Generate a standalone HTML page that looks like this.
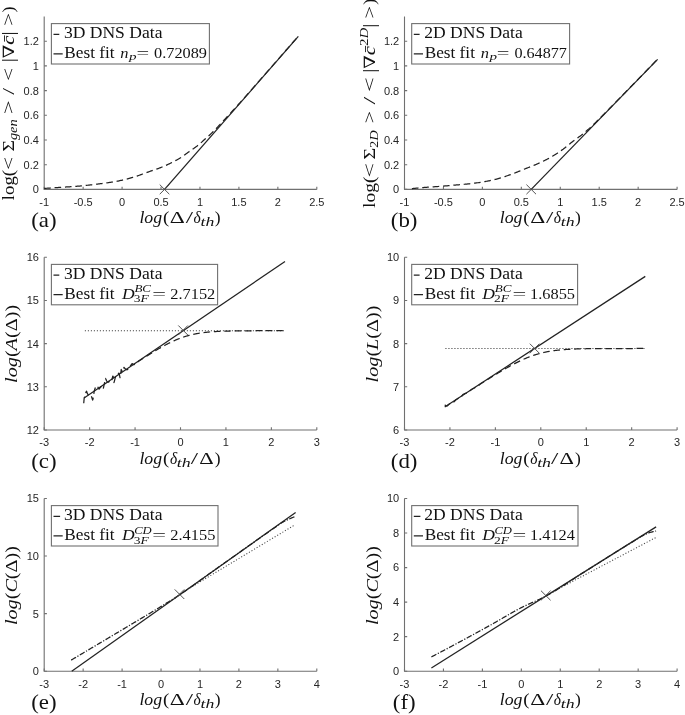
<!DOCTYPE html>
<html><head><meta charset="utf-8"><title>figure</title>
<style>html,body{margin:0;padding:0;background:#fff;width:685px;height:715px;overflow:hidden}svg{display:block}</style>
</head><body>
<svg width="685" height="715" viewBox="0 0 685 715"><g font-family='"Liberation Sans", Arial, sans-serif' font-size="11" fill="#262626"><path d="M44.20 16.50V189.40H316.80" fill="none" stroke="#707070" stroke-width="1.1"/><path d="M44.20 189.40v-2.7M83.14 189.40v-2.7M122.09 189.40v-2.7M161.03 189.40v-2.7M199.97 189.40v-2.7M238.91 189.40v-2.7M277.86 189.40v-2.7M316.80 189.40v-2.7M44.20 189.40h2.7M44.20 164.70h2.7M44.20 140.00h2.7M44.20 115.30h2.7M44.20 90.60h2.7M44.20 65.90h2.7M44.20 41.20h2.7" fill="none" stroke="#707070" stroke-width="1.1"/><text x="44.20" y="205.80" text-anchor="middle">-1</text><text x="83.14" y="205.80" text-anchor="middle">-0.5</text><text x="122.09" y="205.80" text-anchor="middle">0</text><text x="161.03" y="205.80" text-anchor="middle">0.5</text><text x="199.97" y="205.80" text-anchor="middle">1</text><text x="238.91" y="205.80" text-anchor="middle">1.5</text><text x="277.86" y="205.80" text-anchor="middle">2</text><text x="316.80" y="205.80" text-anchor="middle">2.5</text><text x="38.90" y="193.30" text-anchor="end">0</text><text x="38.90" y="168.60" text-anchor="end">0.2</text><text x="38.90" y="143.90" text-anchor="end">0.4</text><text x="38.90" y="119.20" text-anchor="end">0.6</text><text x="38.90" y="94.50" text-anchor="end">0.8</text><text x="38.90" y="69.80" text-anchor="end">1</text><text x="38.90" y="45.10" text-anchor="end">1.2</text></g>
<polyline points="44.20,188.41 45.05,188.36 45.90,188.30 46.75,188.25 47.60,188.20 48.45,188.14 49.30,188.09 50.15,188.03 51.00,187.98 51.85,187.92 52.70,187.87 53.55,187.81 54.40,187.76 55.25,187.70 56.10,187.65 56.95,187.59 57.80,187.54 58.65,187.48 59.50,187.42 60.35,187.37 61.20,187.31 62.05,187.25 62.90,187.20 63.75,187.14 64.60,187.09 65.45,187.03 66.30,186.98 67.15,186.92 68.00,186.87 68.85,186.82 69.70,186.76 70.55,186.71 71.40,186.65 72.25,186.59 73.10,186.53 73.95,186.47 74.80,186.41 75.65,186.35 76.50,186.29 77.35,186.22 78.20,186.15 79.05,186.08 79.90,186.01 80.75,185.93 81.60,185.86 82.45,185.78 83.30,185.69 84.15,185.61 85.00,185.52 85.85,185.43 86.70,185.34 87.55,185.25 88.40,185.15 89.25,185.06 90.10,184.96 90.95,184.86 91.80,184.76 92.65,184.66 93.50,184.56 94.35,184.46 95.20,184.36 96.05,184.25 96.90,184.15 97.75,184.05 98.60,183.94 99.45,183.84 100.30,183.74 101.15,183.63 102.00,183.53 102.85,183.42 103.70,183.31 104.55,183.20 105.40,183.09 106.25,182.97 107.10,182.85 107.95,182.74 108.80,182.61 109.65,182.49 110.50,182.36 111.35,182.23 112.20,182.09 113.05,181.95 113.90,181.81 114.75,181.66 115.60,181.51 116.45,181.35 117.30,181.19 118.15,181.02 119.00,180.84 119.85,180.66 120.70,180.48 121.55,180.29 122.40,180.10 123.25,179.90 124.10,179.70 124.95,179.49 125.80,179.28 126.65,179.06 127.50,178.85 128.35,178.62 129.20,178.40 130.05,178.17 130.90,177.94 131.75,177.70 132.60,177.46 133.45,177.21 134.30,176.94 135.15,176.67 136.00,176.39 136.85,176.11 137.70,175.82 138.55,175.52 139.40,175.22 140.25,174.91 141.10,174.61 141.95,174.29 142.80,173.98 143.65,173.67 144.50,173.35 145.35,173.04 146.20,172.73 147.05,172.42 147.90,172.11 148.75,171.80 149.60,171.50 150.45,171.20 151.30,170.91 152.15,170.62 153.00,170.33 153.85,170.04 154.70,169.76 155.55,169.46 156.40,169.17 157.25,168.87 158.10,168.57 158.95,168.25 159.80,167.93 160.65,167.60 161.50,167.26 162.35,166.91 163.20,166.56 164.05,166.19 164.90,165.82 165.75,165.45 166.60,165.06 167.45,164.67 168.30,164.27 169.15,163.87 170.00,163.46 170.85,163.05 171.70,162.63 172.55,162.20 173.40,161.77 174.25,161.32 175.10,160.88 175.95,160.42 176.80,159.95 177.65,159.47 178.50,158.98 179.35,158.48 180.20,157.97 181.05,157.44 181.90,156.88 182.75,156.30 183.60,155.69 184.45,155.07 185.30,154.43 186.15,153.80 186.99,153.16 187.84,152.54 188.69,151.92 189.54,151.33 190.39,150.74 191.24,150.16 192.09,149.58 192.94,149.00 193.79,148.42 194.64,147.82 195.49,147.22 196.34,146.60 197.19,145.96 198.04,145.29 198.89,144.60 199.74,143.88 200.59,143.14 201.44,142.38 202.29,141.61 203.14,140.83 203.99,140.06 204.84,139.29 205.69,138.53 206.54,137.77 207.39,137.00 208.24,136.24 209.09,135.47 209.94,134.70 210.79,133.91 211.64,133.12 212.49,132.31 213.34,131.48 214.19,130.64 215.04,129.78 215.89,128.90 216.74,128.01 217.59,127.10 218.44,126.18 219.29,125.26 220.14,124.33 220.99,123.41 221.84,122.48 222.69,121.56 223.54,120.64 224.39,119.73 225.24,118.81 226.09,117.90 226.94,116.98 227.79,116.07 228.64,115.15 229.49,114.23 230.34,113.31 231.19,112.39 232.04,111.46 232.89,110.54 233.74,109.61 234.59,108.69 235.44,107.76 236.29,106.83 237.14,105.90 237.99,104.96 238.84,104.02 239.69,103.07 240.54,102.12 241.39,101.17 242.24,100.22 243.09,99.26 243.94,98.30 244.79,97.34 245.64,96.38 246.49,95.42 247.34,94.45 248.19,93.49 249.04,92.52 249.89,91.55 250.74,90.58 251.59,89.61 252.44,88.64 253.29,87.66 254.14,86.69 254.99,85.72 255.84,84.74 256.69,83.77 257.54,82.80 258.39,81.83 259.24,80.85 260.09,79.88 260.94,78.91 261.79,77.94 262.64,76.97 263.49,76.00 264.34,75.03 265.19,74.07 266.04,73.10 266.89,72.13 267.74,71.16 268.59,70.19 269.44,69.22 270.29,68.25 271.14,67.28 271.99,66.31 272.84,65.34 273.69,64.36 274.54,63.39 275.39,62.42 276.24,61.45 277.09,60.48 277.94,59.51 278.79,58.54 279.64,57.56 280.49,56.59 281.34,55.62 282.19,54.65 283.04,53.68 283.89,52.70 284.74,51.73 285.59,50.76 286.44,49.78 287.29,48.81 288.14,47.84 288.99,46.86 289.84,45.89 290.69,44.91 291.54,43.94 292.39,42.96 293.24,41.99 294.09,41.01 294.94,40.04 295.79,39.06 296.64,38.09 297.49,37.11 298.34,36.14" fill="none" stroke="#222" stroke-width="1.25" stroke-dasharray="6.6 3.8" stroke-linejoin="round" />
<polyline points="164.53,189.40 298.34,36.45" fill="none" stroke="#222" stroke-width="1.25"  stroke-linejoin="round" />
<path d="M159.73 184.60L169.33 194.20M159.73 194.20L169.33 184.60" stroke="#4a4a4a" stroke-width="0.95" fill="none"/>
<g font-family='"Liberation Sans", Arial, sans-serif' font-size="11" fill="#262626"><path d="M404.50 16.50V189.40H677.10" fill="none" stroke="#707070" stroke-width="1.1"/><path d="M404.50 189.40v-2.7M443.44 189.40v-2.7M482.39 189.40v-2.7M521.33 189.40v-2.7M560.27 189.40v-2.7M599.21 189.40v-2.7M638.16 189.40v-2.7M677.10 189.40v-2.7M404.50 189.40h2.7M404.50 164.70h2.7M404.50 140.00h2.7M404.50 115.30h2.7M404.50 90.60h2.7M404.50 65.90h2.7M404.50 41.20h2.7" fill="none" stroke="#707070" stroke-width="1.1"/><text x="404.50" y="205.80" text-anchor="middle">-1</text><text x="443.44" y="205.80" text-anchor="middle">-0.5</text><text x="482.39" y="205.80" text-anchor="middle">0</text><text x="521.33" y="205.80" text-anchor="middle">0.5</text><text x="560.27" y="205.80" text-anchor="middle">1</text><text x="599.21" y="205.80" text-anchor="middle">1.5</text><text x="638.16" y="205.80" text-anchor="middle">2</text><text x="677.10" y="205.80" text-anchor="middle">2.5</text><text x="399.20" y="193.30" text-anchor="end">0</text><text x="399.20" y="168.60" text-anchor="end">0.2</text><text x="399.20" y="143.90" text-anchor="end">0.4</text><text x="399.20" y="119.20" text-anchor="end">0.6</text><text x="399.20" y="94.50" text-anchor="end">0.8</text><text x="399.20" y="69.80" text-anchor="end">1</text><text x="399.20" y="45.10" text-anchor="end">1.2</text></g>
<polyline points="411.90,188.66 412.72,188.57 413.54,188.48 414.36,188.39 415.19,188.30 416.01,188.21 416.83,188.13 417.65,188.04 418.47,187.96 419.30,187.88 420.12,187.81 420.94,187.73 421.76,187.66 422.58,187.59 423.40,187.53 424.23,187.46 425.05,187.40 425.87,187.34 426.69,187.28 427.51,187.23 428.34,187.17 429.16,187.11 429.98,187.06 430.80,187.00 431.62,186.95 432.45,186.90 433.27,186.84 434.09,186.79 434.91,186.73 435.73,186.67 436.55,186.62 437.38,186.56 438.20,186.50 439.02,186.43 439.84,186.37 440.66,186.31 441.49,186.24 442.31,186.18 443.13,186.11 443.95,186.04 444.77,185.98 445.59,185.91 446.42,185.84 447.24,185.77 448.06,185.70 448.88,185.63 449.70,185.56 450.53,185.49 451.35,185.42 452.17,185.35 452.99,185.28 453.81,185.20 454.63,185.13 455.46,185.06 456.28,184.98 457.10,184.91 457.92,184.84 458.74,184.76 459.57,184.69 460.39,184.62 461.21,184.54 462.03,184.47 462.85,184.40 463.67,184.32 464.50,184.25 465.32,184.17 466.14,184.09 466.96,184.01 467.78,183.93 468.61,183.85 469.43,183.76 470.25,183.67 471.07,183.58 471.89,183.49 472.72,183.40 473.54,183.30 474.36,183.20 475.18,183.09 476.00,182.98 476.82,182.87 477.65,182.75 478.47,182.64 479.29,182.51 480.11,182.39 480.93,182.26 481.76,182.12 482.58,181.99 483.40,181.85 484.22,181.70 485.04,181.56 485.86,181.41 486.69,181.25 487.51,181.09 488.33,180.93 489.15,180.77 489.97,180.60 490.80,180.43 491.62,180.25 492.44,180.07 493.26,179.88 494.08,179.68 494.90,179.48 495.73,179.27 496.55,179.05 497.37,178.82 498.19,178.59 499.01,178.36 499.84,178.11 500.66,177.87 501.48,177.62 502.30,177.36 503.12,177.10 503.94,176.84 504.77,176.57 505.59,176.30 506.41,176.03 507.23,175.75 508.05,175.47 508.88,175.20 509.70,174.92 510.52,174.63 511.34,174.34 512.16,174.04 512.99,173.73 513.81,173.41 514.63,173.08 515.45,172.75 516.27,172.42 517.09,172.08 517.92,171.74 518.74,171.40 519.56,171.06 520.38,170.72 521.20,170.38 522.03,170.05 522.85,169.72 523.67,169.39 524.49,169.07 525.31,168.74 526.13,168.42 526.96,168.10 527.78,167.78 528.60,167.46 529.42,167.14 530.24,166.82 531.07,166.49 531.89,166.17 532.71,165.83 533.53,165.50 534.35,165.16 535.17,164.81 536.00,164.45 536.82,164.09 537.64,163.73 538.46,163.37 539.28,163.00 540.11,162.63 540.93,162.25 541.75,161.87 542.57,161.48 543.39,161.09 544.21,160.69 545.04,160.29 545.86,159.88 546.68,159.46 547.50,159.03 548.32,158.60 549.15,158.15 549.97,157.70 550.79,157.23 551.61,156.76 552.43,156.28 553.26,155.78 554.08,155.28 554.90,154.77 555.72,154.25 556.54,153.72 557.36,153.18 558.19,152.64 559.01,152.08 559.83,151.52 560.65,150.95 561.47,150.38 562.30,149.80 563.12,149.21 563.94,148.59 564.76,147.96 565.58,147.31 566.40,146.64 567.23,145.97 568.05,145.29 568.87,144.61 569.69,143.93 570.51,143.25 571.34,142.58 572.16,141.93 572.98,141.29 573.80,140.66 574.62,140.05 575.44,139.45 576.27,138.85 577.09,138.26 577.91,137.68 578.73,137.09 579.55,136.49 580.38,135.89 581.20,135.29 582.02,134.66 582.84,134.03 583.66,133.37 584.49,132.69 585.31,132.00 586.13,131.29 586.95,130.56 587.77,129.83 588.59,129.09 589.42,128.34 590.24,127.59 591.06,126.82 591.88,126.04 592.70,125.26 593.53,124.47 594.35,123.68 595.17,122.88 595.99,122.08 596.81,121.27 597.63,120.45 598.46,119.64 599.28,118.82 600.10,118.00 600.92,117.18 601.74,116.35 602.57,115.53 603.39,114.70 604.21,113.87 605.03,113.05 605.85,112.22 606.67,111.38 607.50,110.55 608.32,109.72 609.14,108.88 609.96,108.05 610.78,107.21 611.61,106.38 612.43,105.54 613.25,104.70 614.07,103.86 614.89,103.02 615.71,102.18 616.54,101.35 617.36,100.51 618.18,99.67 619.00,98.83 619.82,97.99 620.65,97.15 621.47,96.31 622.29,95.47 623.11,94.63 623.93,93.79 624.76,92.95 625.58,92.11 626.40,91.27 627.22,90.43 628.04,89.58 628.86,88.74 629.69,87.90 630.51,87.06 631.33,86.22 632.15,85.38 632.97,84.53 633.80,83.69 634.62,82.85 635.44,82.00 636.26,81.16 637.08,80.31 637.90,79.47 638.73,78.63 639.55,77.78 640.37,76.94 641.19,76.09 642.01,75.24 642.84,74.40 643.66,73.55 644.48,72.70 645.30,71.86 646.12,71.01 646.94,70.16 647.77,69.31 648.59,68.46 649.41,67.62 650.23,66.77 651.05,65.92 651.88,65.07 652.70,64.22 653.52,63.37 654.34,62.51 655.16,61.66 655.98,60.81 656.81,59.96 657.63,59.11" fill="none" stroke="#222" stroke-width="1.25" stroke-dasharray="6.6 3.8" stroke-linejoin="round" />
<polyline points="531.22,189.40 657.63,59.36" fill="none" stroke="#222" stroke-width="1.25"  stroke-linejoin="round" />
<path d="M526.42 184.60L536.02 194.20M526.42 194.20L536.02 184.60" stroke="#4a4a4a" stroke-width="0.95" fill="none"/>
<g font-family='"Liberation Sans", Arial, sans-serif' font-size="11" fill="#262626"><path d="M44.20 257.30V430.00H316.80" fill="none" stroke="#707070" stroke-width="1.1"/><path d="M44.20 430.00v-2.7M89.63 430.00v-2.7M135.07 430.00v-2.7M180.50 430.00v-2.7M225.93 430.00v-2.7M271.37 430.00v-2.7M316.80 430.00v-2.7M44.20 430.00h2.7M44.20 386.82h2.7M44.20 343.65h2.7M44.20 300.48h2.7M44.20 257.30h2.7" fill="none" stroke="#707070" stroke-width="1.1"/><text x="44.20" y="446.40" text-anchor="middle">-3</text><text x="89.63" y="446.40" text-anchor="middle">-2</text><text x="135.07" y="446.40" text-anchor="middle">-1</text><text x="180.50" y="446.40" text-anchor="middle">0</text><text x="225.93" y="446.40" text-anchor="middle">1</text><text x="271.37" y="446.40" text-anchor="middle">2</text><text x="316.80" y="446.40" text-anchor="middle">3</text><text x="38.90" y="433.90" text-anchor="end">12</text><text x="38.90" y="390.72" text-anchor="end">13</text><text x="38.90" y="347.55" text-anchor="end">14</text><text x="38.90" y="304.38" text-anchor="end">15</text><text x="38.90" y="261.20" text-anchor="end">16</text></g>
<polyline points="84.86,330.70 285.00,330.70" fill="none" stroke="#444" stroke-width="1.05" stroke-dasharray="1.1 1.9" stroke-linejoin="round" />
<polyline points="83.73,403.23 84.18,397.93 84.58,397.09 84.99,395.57 85.39,394.05 85.79,392.84 86.19,391.75 86.60,391.21 87.00,392.44 87.40,393.67 87.80,394.28 88.21,394.69 88.61,395.11 89.01,395.50 89.41,395.40 89.82,395.30 90.22,395.20 90.62,395.09 91.02,395.07 91.43,396.32 91.83,397.56 92.23,398.81 92.63,400.06 93.03,398.99 93.44,396.27 93.84,393.56 94.24,391.00 94.64,389.77 95.05,388.55 95.45,387.33 95.85,386.10 96.25,385.77 96.66,385.95 97.06,386.14 97.46,386.32 97.86,387.04 98.27,387.82 98.67,388.59 99.07,389.13 99.47,388.59 99.88,388.04 100.28,387.49 100.68,386.95 101.08,386.66 101.49,387.34 101.89,388.03 102.29,388.71 102.69,389.40 103.10,389.48 103.50,387.62 103.90,385.76 104.30,383.90 104.71,382.04 105.11,380.18 105.51,378.39 105.91,379.26 106.32,380.12 106.72,380.99 107.12,381.65 107.52,381.84 107.93,382.02 108.33,382.21 108.73,382.00 109.13,381.50 109.53,381.00 109.94,380.50 110.34,380.65 110.74,380.93 111.14,381.20 111.55,381.24 111.95,379.51 112.35,377.78 112.75,376.05 113.16,376.22 113.56,379.37 113.96,382.52 114.36,381.33 114.77,379.69 115.17,378.05 115.57,376.70 115.97,376.65 116.38,376.61 116.78,376.57 117.18,376.19 117.58,375.41 117.99,374.62 118.39,373.84 118.79,373.05 119.19,373.61 119.60,375.62 120.00,377.63 120.40,376.80 120.80,373.11 121.21,369.48 121.61,370.26 122.01,371.04 122.41,371.82 122.82,371.00 123.22,369.72 123.62,368.45 124.02,367.27 124.42,367.78 124.83,368.29 125.23,368.79 125.63,369.19 126.03,369.38 126.44,369.57 126.84,369.75 127.24,369.73 127.64,369.56 128.05,369.40 128.45,369.23 128.85,369.06 129.25,368.46 129.66,367.60 130.06,366.74 130.46,365.88 130.86,365.26 131.27,364.68 131.67,364.09 132.07,363.65 132.47,363.90 132.88,364.15 133.28,364.39 133.68,364.64 134.08,364.72 134.49,364.14 134.89,363.57 135.29,363.00 135.69,362.42 136.10,361.97 136.50,361.91 136.90,361.85 137.30,361.79 137.71,361.74 138.11,361.62 138.51,361.36 138.91,361.10 139.32,360.83 139.72,360.57 140.12,360.31 140.52,360.05 140.92,359.79 141.33,359.52 141.73,359.26 142.13,359.00 142.53,358.74 142.94,358.48 143.34,358.23 143.74,357.97 144.14,357.71 144.55,357.45 144.95,357.19 145.35,356.94 145.75,356.68 146.16,356.42 146.56,356.17 146.96,355.91 147.36,355.66 147.77,355.40 148.17,355.15 148.57,354.90 148.97,354.64 149.38,354.39 149.78,354.14 150.18,353.89 150.58,353.64 150.99,353.39 151.39,353.14 151.79,352.89 152.19,352.65 152.60,352.40 153.00,352.15 153.40,351.91 153.80,351.66 154.21,351.42 154.61,351.18 155.01,350.93 155.41,350.69 155.81,350.45 156.22,350.21 156.62,349.97 157.02,349.73 157.42,349.50 157.83,349.26 158.23,349.03 158.63,348.79 159.03,348.56 159.44,348.33 159.84,348.09 160.24,347.86 160.64,347.63 161.05,347.41 161.45,347.18 161.85,346.95 162.25,346.73 162.66,346.51 163.06,346.28 163.46,346.06 163.86,345.84 164.27,345.62 164.67,345.41 165.07,345.19 165.47,344.98 165.88,344.76 166.28,344.55 166.68,344.34 167.08,344.13 167.49,343.92 167.89,343.72 168.29,343.51 168.69,343.31 169.10,343.11 169.50,342.91 169.90,342.71 170.30,342.51 170.70,342.32 171.11,342.13 171.51,341.93 171.91,341.74 172.31,341.56 172.72,341.37 173.12,341.18 173.52,341.00 173.92,340.82 174.33,340.64 174.73,340.46 175.13,340.29 175.53,340.11 175.94,339.94 176.34,339.77 176.74,339.60 177.14,339.43 177.55,339.27 177.95,339.10 178.35,338.94 178.75,338.78 179.16,338.63 179.56,338.47 179.96,338.32 180.36,338.17 180.77,338.02 181.17,337.87 181.57,337.73 181.97,337.58 182.38,337.44 182.78,337.30 183.18,337.17 183.58,337.03 183.99,336.90 184.39,336.77 184.79,336.64 185.19,336.51 185.60,336.38 186.00,336.26 186.40,336.14 186.80,336.02 187.20,335.90 187.61,335.79 188.01,335.67 188.41,335.56 188.81,335.45 189.22,335.34 189.62,335.24 190.02,335.13 190.42,335.03 190.83,334.93 191.23,334.83 191.63,334.74 192.03,334.64 192.44,334.55 192.84,334.46 193.24,334.37 193.64,334.28 194.05,334.19 194.45,334.11 194.85,334.03 195.25,333.95 195.66,333.87 196.06,333.79 196.46,333.71 196.86,333.64 197.27,333.57 197.67,333.49 198.07,333.42 198.47,333.36 198.88,333.29 199.28,333.22 199.68,333.16 200.08,333.10 200.49,333.04 200.89,332.98 201.29,332.92 201.69,332.86 202.09,332.81 202.50,332.75 202.90,332.70 203.30,332.65 203.70,332.60 204.11,332.55 204.51,332.50 204.91,332.45 205.31,332.40 205.72,332.36 206.12,332.32 206.52,332.27 206.92,332.23 207.33,332.19 207.73,332.15 208.13,332.11 208.53,332.07 208.94,332.04 209.34,332.00 209.74,331.97 210.14,331.93 210.55,331.90 210.95,331.87 211.35,331.83 211.75,331.80 212.16,331.77 212.56,331.74 212.96,331.72 213.36,331.69 213.77,331.66 214.17,331.63 214.57,331.61 214.97,331.58 215.38,331.56 215.78,331.54 216.18,331.51 216.58,331.49 216.99,331.47 217.39,331.45 217.79,331.43 218.19,331.41 218.59,331.39 219.00,331.37 219.40,331.35 219.80,331.33 220.20,331.31 220.61,331.30 221.01,331.28 221.41,331.26 221.81,331.25 222.22,331.23 222.62,331.22 223.02,331.20 223.42,331.19 223.83,331.17 224.23,331.16 224.63,331.15 225.03,331.14 225.44,331.12 225.84,331.11 226.24,331.10 226.64,331.09 227.05,331.08 227.45,331.07 227.85,331.06 228.25,331.05 228.66,331.04 229.06,331.03 229.46,331.02 229.86,331.01 230.27,331.00 230.67,330.99 231.07,330.98 231.47,330.97 231.88,330.97 232.28,330.96 232.68,330.95 233.08,330.94 233.48,330.94 233.89,330.93 234.29,330.92 234.69,330.92 235.09,330.91 235.50,330.91 235.90,330.90 236.30,330.89 236.70,330.89 237.11,330.88 237.51,330.88 237.91,330.87 238.31,330.87 238.72,330.86 239.12,330.86 239.52,330.85 239.92,330.85 240.33,330.84 240.73,330.84 241.13,330.84 241.53,330.83 241.94,330.83 242.34,330.82 242.74,330.82 243.14,330.82 243.55,330.81 243.95,330.81 244.35,330.81 244.75,330.80 245.16,330.80 245.56,330.80 245.96,330.80 246.36,330.79 246.77,330.79 247.17,330.79 247.57,330.78 247.97,330.78 248.38,330.78 248.78,330.78 249.18,330.78 249.58,330.77 249.98,330.77 250.39,330.77 250.79,330.77 251.19,330.76 251.59,330.76 252.00,330.76 252.40,330.76 252.80,330.76 253.20,330.76 253.61,330.75 254.01,330.75 254.41,330.75 254.81,330.75 255.22,330.75 255.62,330.75 256.02,330.74 256.42,330.74 256.83,330.74 257.23,330.74 257.63,330.74 258.03,330.74 258.44,330.74 258.84,330.74 259.24,330.73 259.64,330.73 260.05,330.73 260.45,330.73 260.85,330.73 261.25,330.73 261.66,330.73 262.06,330.73 262.46,330.73 262.86,330.73 263.27,330.73 263.67,330.72 264.07,330.72 264.47,330.72 264.87,330.72 265.28,330.72 265.68,330.72 266.08,330.72 266.48,330.72 266.89,330.72 267.29,330.72 267.69,330.72 268.09,330.72 268.50,330.72 268.90,330.72 269.30,330.72 269.70,330.72 270.11,330.71 270.51,330.71 270.91,330.71 271.31,330.71 271.72,330.71 272.12,330.71 272.52,330.71 272.92,330.71 273.33,330.71 273.73,330.71 274.13,330.71 274.53,330.71 274.94,330.71 275.34,330.71 275.74,330.71 276.14,330.71 276.55,330.71 276.95,330.71 277.35,330.71 277.75,330.71 278.16,330.71 278.56,330.71 278.96,330.71 279.36,330.71 279.77,330.71 280.17,330.71 280.57,330.71 280.97,330.71 281.37,330.71 281.78,330.70 282.18,330.70 282.58,330.70 282.98,330.70 283.39,330.70 283.79,330.70 284.19,330.70 284.59,330.70 285.00,330.70" fill="none" stroke="#222" stroke-width="1.25" stroke-dasharray="6.6 3.8" stroke-linejoin="round" />
<polyline points="84.09,397.98 285.00,261.44" fill="none" stroke="#222" stroke-width="1.25"  stroke-linejoin="round" />
<path d="M178.29 325.47L187.89 335.07M178.29 335.07L187.89 325.47" stroke="#4a4a4a" stroke-width="0.95" fill="none"/>
<g font-family='"Liberation Sans", Arial, sans-serif' font-size="11" fill="#262626"><path d="M404.50 257.30V430.00H677.10" fill="none" stroke="#707070" stroke-width="1.1"/><path d="M404.50 430.00v-2.7M449.93 430.00v-2.7M495.37 430.00v-2.7M540.80 430.00v-2.7M586.23 430.00v-2.7M631.67 430.00v-2.7M677.10 430.00v-2.7M404.50 430.00h2.7M404.50 386.82h2.7M404.50 343.65h2.7M404.50 300.48h2.7M404.50 257.30h2.7" fill="none" stroke="#707070" stroke-width="1.1"/><text x="404.50" y="446.40" text-anchor="middle">-3</text><text x="449.93" y="446.40" text-anchor="middle">-2</text><text x="495.37" y="446.40" text-anchor="middle">-1</text><text x="540.80" y="446.40" text-anchor="middle">0</text><text x="586.23" y="446.40" text-anchor="middle">1</text><text x="631.67" y="446.40" text-anchor="middle">2</text><text x="677.10" y="446.40" text-anchor="middle">3</text><text x="399.20" y="433.90" text-anchor="end">6</text><text x="399.20" y="390.72" text-anchor="end">7</text><text x="399.20" y="347.55" text-anchor="end">8</text><text x="399.20" y="304.38" text-anchor="end">9</text><text x="399.20" y="261.20" text-anchor="end">10</text></g>
<polyline points="445.39,348.49 645.30,348.49" fill="none" stroke="#444" stroke-width="1.05" stroke-dasharray="1.1 1.9" stroke-linejoin="round" />
<polyline points="444.71,404.89 445.21,405.18 445.71,405.49 446.22,405.78 446.72,406.06 447.22,405.95 447.72,405.48 448.23,405.01 448.73,404.55 449.23,404.09 449.74,403.67 450.24,403.25 450.74,402.83 451.24,402.42 451.75,402.22 452.25,402.18 452.75,402.14 453.25,402.09 453.76,402.00 454.26,401.48 454.76,400.97 455.27,400.46 455.77,399.96 456.27,399.56 456.77,399.24 457.28,398.91 457.78,398.59 458.28,398.30 458.78,398.31 459.29,398.31 459.79,398.30 460.29,398.28 460.80,397.74 461.30,396.90 461.80,396.09 462.30,395.29 462.81,394.58 463.31,394.34 463.81,394.10 464.31,393.85 464.82,393.60 465.32,393.43 465.82,393.28 466.33,393.13 466.83,392.98 467.33,392.77 467.83,392.38 468.34,391.99 468.84,391.60 469.34,391.22 469.84,390.82 470.35,390.42 470.85,390.02 471.35,389.63 471.86,389.28 472.36,389.04 472.86,388.79 473.36,388.54 473.87,388.28 474.37,387.97 474.87,387.65 475.37,387.32 475.88,386.99 476.38,386.68 476.88,386.44 477.39,386.18 477.89,385.92 478.39,385.65 478.89,385.24 479.40,384.81 479.90,384.38 480.40,383.98 480.90,383.61 481.41,383.31 481.91,383.01 482.41,382.71 482.92,382.41 483.42,382.09 483.92,381.77 484.42,381.45 484.93,381.14 485.43,380.83 485.93,380.52 486.43,380.20 486.94,379.88 487.44,379.57 487.94,379.25 488.45,378.94 488.95,378.62 489.45,378.31 489.95,377.99 490.46,377.68 490.96,377.37 491.46,377.06 491.96,376.74 492.47,376.43 492.97,376.12 493.47,375.81 493.98,375.50 494.48,375.19 494.98,374.89 495.48,374.58 495.99,374.27 496.49,373.97 496.99,373.66 497.49,373.36 498.00,373.05 498.50,372.75 499.00,372.45 499.51,372.14 500.01,371.84 500.51,371.54 501.01,371.24 501.52,370.95 502.02,370.65 502.52,370.35 503.02,370.06 503.53,369.76 504.03,369.47 504.53,369.18 505.04,368.89 505.54,368.60 506.04,368.31 506.54,368.02 507.05,367.74 507.55,367.45 508.05,367.17 508.55,366.89 509.06,366.60 509.56,366.33 510.06,366.05 510.57,365.77 511.07,365.50 511.57,365.22 512.07,364.95 512.58,364.68 513.08,364.41 513.58,364.15 514.08,363.88 514.59,363.62 515.09,363.36 515.59,363.10 516.10,362.84 516.60,362.58 517.10,362.33 517.60,362.08 518.11,361.83 518.61,361.58 519.11,361.34 519.61,361.09 520.12,360.85 520.62,360.61 521.12,360.38 521.63,360.14 522.13,359.91 522.63,359.68 523.13,359.45 523.64,359.23 524.14,359.01 524.64,358.79 525.14,358.57 525.65,358.36 526.15,358.14 526.65,357.93 527.16,357.73 527.66,357.52 528.16,357.32 528.66,357.12 529.17,356.93 529.67,356.73 530.17,356.54 530.67,356.36 531.18,356.17 531.68,355.99 532.18,355.81 532.69,355.64 533.19,355.46 533.69,355.29 534.19,355.12 534.70,354.96 535.20,354.80 535.70,354.64 536.20,354.48 536.71,354.33 537.21,354.18 537.71,354.03 538.22,353.89 538.72,353.74 539.22,353.60 539.72,353.47 540.23,353.33 540.73,353.20 541.23,353.08 541.73,352.95 542.24,352.83 542.74,352.71 543.24,352.59 543.75,352.48 544.25,352.36 544.75,352.25 545.25,352.15 545.76,352.04 546.26,351.94 546.76,351.84 547.26,351.74 547.77,351.65 548.27,351.56 548.77,351.46 549.28,351.38 549.78,351.29 550.28,351.21 550.78,351.13 551.29,351.05 551.79,350.97 552.29,350.89 552.79,350.82 553.30,350.75 553.80,350.68 554.30,350.61 554.81,350.55 555.31,350.48 555.81,350.42 556.31,350.36 556.82,350.30 557.32,350.25 557.82,350.19 558.32,350.14 558.83,350.09 559.33,350.03 559.83,349.99 560.34,349.94 560.84,349.89 561.34,349.85 561.84,349.80 562.35,349.76 562.85,349.72 563.35,349.68 563.85,349.64 564.36,349.60 564.86,349.57 565.36,349.53 565.87,349.50 566.37,349.47 566.87,349.43 567.37,349.40 567.88,349.37 568.38,349.34 568.88,349.32 569.38,349.29 569.89,349.26 570.39,349.24 570.89,349.21 571.40,349.19 571.90,349.16 572.40,349.14 572.90,349.12 573.41,349.10 573.91,349.08 574.41,349.06 574.91,349.04 575.42,349.02 575.92,349.00 576.42,348.99 576.93,348.97 577.43,348.95 577.93,348.94 578.43,348.92 578.94,348.91 579.44,348.89 579.94,348.88 580.44,348.87 580.95,348.85 581.45,348.84 581.95,348.83 582.46,348.82 582.96,348.81 583.46,348.80 583.96,348.78 584.47,348.77 584.97,348.76 585.47,348.76 585.97,348.75 586.48,348.74 586.98,348.73 587.48,348.72 587.99,348.71 588.49,348.71 588.99,348.70 589.49,348.69 590.00,348.68 590.50,348.68 591.00,348.67 591.50,348.66 592.01,348.66 592.51,348.65 593.01,348.65 593.52,348.64 594.02,348.64 594.52,348.63 595.02,348.63 595.53,348.62 596.03,348.62 596.53,348.61 597.03,348.61 597.54,348.60 598.04,348.60 598.54,348.60 599.05,348.59 599.55,348.59 600.05,348.58 600.55,348.58 601.06,348.58 601.56,348.57 602.06,348.57 602.56,348.57 603.07,348.57 603.57,348.56 604.07,348.56 604.58,348.56 605.08,348.56 605.58,348.55 606.08,348.55 606.59,348.55 607.09,348.55 607.59,348.54 608.09,348.54 608.60,348.54 609.10,348.54 609.60,348.54 610.11,348.53 610.61,348.53 611.11,348.53 611.61,348.53 612.12,348.53 612.62,348.53 613.12,348.53 613.62,348.52 614.13,348.52 614.63,348.52 615.13,348.52 615.64,348.52 616.14,348.52 616.64,348.52 617.14,348.52 617.65,348.51 618.15,348.51 618.65,348.51 619.15,348.51 619.66,348.51 620.16,348.51 620.66,348.51 621.17,348.51 621.67,348.51 622.17,348.51 622.67,348.51 623.18,348.51 623.68,348.50 624.18,348.50 624.68,348.50 625.19,348.50 625.69,348.50 626.19,348.50 626.70,348.50 627.20,348.50 627.70,348.50 628.20,348.50 628.71,348.50 629.21,348.50 629.71,348.50 630.21,348.50 630.72,348.50 631.22,348.50 631.72,348.50 632.23,348.50 632.73,348.50 633.23,348.50 633.73,348.50 634.24,348.49 634.74,348.49 635.24,348.49 635.74,348.49 636.25,348.49 636.75,348.49 637.25,348.49 637.76,348.49 638.26,348.49 638.76,348.49 639.26,348.49 639.77,348.49 640.27,348.49 640.77,348.49 641.27,348.49 641.78,348.49 642.28,348.49 642.78,348.49 643.29,348.49 643.79,348.49 644.29,348.49 644.79,348.49 645.30,348.49" fill="none" stroke="#222" stroke-width="1.25" stroke-dasharray="6.6 3.8" stroke-linejoin="round" />
<polyline points="444.71,407.06 645.30,276.39" fill="none" stroke="#222" stroke-width="1.25"  stroke-linejoin="round" />
<path d="M529.82 343.69L539.42 353.29M529.82 353.29L539.42 343.69" stroke="#4a4a4a" stroke-width="0.95" fill="none"/>
<g font-family='"Liberation Sans", Arial, sans-serif' font-size="11" fill="#262626"><path d="M44.20 498.50V671.20H316.80" fill="none" stroke="#707070" stroke-width="1.1"/><path d="M44.20 671.20v-2.7M83.14 671.20v-2.7M122.09 671.20v-2.7M161.03 671.20v-2.7M199.97 671.20v-2.7M238.91 671.20v-2.7M277.86 671.20v-2.7M316.80 671.20v-2.7M44.20 671.20h2.7M44.20 613.63h2.7M44.20 556.07h2.7M44.20 498.50h2.7" fill="none" stroke="#707070" stroke-width="1.1"/><text x="44.20" y="687.60" text-anchor="middle">-3</text><text x="83.14" y="687.60" text-anchor="middle">-2</text><text x="122.09" y="687.60" text-anchor="middle">-1</text><text x="161.03" y="687.60" text-anchor="middle">0</text><text x="199.97" y="687.60" text-anchor="middle">1</text><text x="238.91" y="687.60" text-anchor="middle">2</text><text x="277.86" y="687.60" text-anchor="middle">3</text><text x="316.80" y="687.60" text-anchor="middle">4</text><text x="38.90" y="675.10" text-anchor="end">0</text><text x="38.90" y="617.53" text-anchor="end">5</text><text x="38.90" y="559.97" text-anchor="end">10</text><text x="38.90" y="502.40" text-anchor="end">15</text></g>
<polyline points="179.49,594.20 293.82,525.50" fill="none" stroke="#444" stroke-width="1.05" stroke-dasharray="1.1 1.9" stroke-linejoin="round" />
<polyline points="71.19,660.10 71.94,659.66 72.69,659.21 73.44,658.77 74.19,658.32 74.94,657.88 75.69,657.43 76.44,656.99 77.19,656.54 77.94,656.10 78.69,655.65 79.44,655.21 80.19,654.76 80.95,654.32 81.70,653.87 82.45,653.42 83.20,652.98 83.95,652.53 84.70,652.09 85.45,651.64 86.20,651.20 86.95,650.75 87.70,650.30 88.45,649.86 89.20,649.41 89.95,648.97 90.70,648.52 91.45,648.07 92.20,647.63 92.95,647.18 93.71,646.73 94.46,646.29 95.21,645.84 95.96,645.40 96.71,644.95 97.46,644.50 98.21,644.06 98.96,643.61 99.71,643.16 100.46,642.72 101.21,642.27 101.96,641.82 102.71,641.37 103.46,640.93 104.21,640.48 104.96,640.03 105.71,639.59 106.47,639.14 107.22,638.69 107.97,638.24 108.72,637.80 109.47,637.35 110.22,636.90 110.97,636.45 111.72,636.01 112.47,635.56 113.22,635.11 113.97,634.66 114.72,634.22 115.47,633.77 116.22,633.32 116.97,632.87 117.72,632.43 118.47,631.98 119.23,631.53 119.98,631.08 120.73,630.63 121.48,630.19 122.23,629.74 122.98,629.29 123.73,628.84 124.48,628.39 125.23,627.94 125.98,627.50 126.73,627.05 127.48,626.60 128.23,626.15 128.98,625.70 129.73,625.25 130.48,624.81 131.23,624.36 131.99,623.91 132.74,623.46 133.49,623.02 134.24,622.57 134.99,622.12 135.74,621.68 136.49,621.23 137.24,620.78 137.99,620.34 138.74,619.89 139.49,619.45 140.24,619.00 140.99,618.56 141.74,618.11 142.49,617.66 143.24,617.22 144.00,616.77 144.75,616.32 145.50,615.88 146.25,615.43 147.00,614.98 147.75,614.53 148.50,614.08 149.25,613.64 150.00,613.19 150.75,612.74 151.50,612.28 152.25,611.83 153.00,611.38 153.75,610.93 154.50,610.48 155.25,610.02 156.00,609.57 156.76,609.11 157.51,608.65 158.26,608.19 159.01,607.74 159.76,607.28 160.51,606.82 161.26,606.35 162.01,605.89 162.76,605.43 163.51,604.97 164.26,604.50 165.01,604.04 165.76,603.58 166.51,603.11 167.26,602.65 168.01,602.18 168.76,601.72 169.52,601.25 170.27,600.78 171.02,600.31 171.77,599.84 172.52,599.36 173.27,598.89 174.02,598.41 174.77,597.93 175.52,597.45 176.27,596.97 177.02,596.48 177.77,595.99 178.52,595.50 179.27,595.00 180.02,594.51 180.77,594.01 181.52,593.50 182.28,593.00 183.03,592.49 183.78,591.98 184.53,591.47 185.28,590.95 186.03,590.44 186.78,589.92 187.53,589.40 188.28,588.88 189.03,588.35 189.78,587.83 190.53,587.30 191.28,586.77 192.03,586.24 192.78,585.71 193.53,585.18 194.28,584.64 195.04,584.11 195.79,583.57 196.54,583.03 197.29,582.50 198.04,581.96 198.79,581.42 199.54,580.88 200.29,580.34 201.04,579.79 201.79,579.25 202.54,578.71 203.29,578.17 204.04,577.62 204.79,577.08 205.54,576.54 206.29,575.99 207.04,575.45 207.80,574.91 208.55,574.36 209.30,573.82 210.05,573.28 210.80,572.74 211.55,572.20 212.30,571.66 213.05,571.12 213.80,570.58 214.55,570.04 215.30,569.50 216.05,568.96 216.80,568.43 217.55,567.90 218.30,567.36 219.05,566.83 219.81,566.30 220.56,565.77 221.31,565.24 222.06,564.71 222.81,564.18 223.56,563.65 224.31,563.12 225.06,562.58 225.81,562.05 226.56,561.52 227.31,560.99 228.06,560.46 228.81,559.93 229.56,559.39 230.31,558.86 231.06,558.33 231.81,557.80 232.57,557.27 233.32,556.73 234.07,556.20 234.82,555.67 235.57,555.14 236.32,554.61 237.07,554.07 237.82,553.54 238.57,553.01 239.32,552.48 240.07,551.95 240.82,551.41 241.57,550.88 242.32,550.35 243.07,549.82 243.82,549.29 244.57,548.76 245.33,548.23 246.08,547.70 246.83,547.16 247.58,546.63 248.33,546.10 249.08,545.57 249.83,545.04 250.58,544.51 251.33,543.98 252.08,543.45 252.83,542.93 253.58,542.40 254.33,541.87 255.08,541.34 255.83,540.81 256.58,540.28 257.33,539.76 258.09,539.23 258.84,538.70 259.59,538.17 260.34,537.65 261.09,537.12 261.84,536.60 262.59,536.07 263.34,535.55 264.09,535.02 264.84,534.50 265.59,533.97 266.34,533.45 267.09,532.93 267.84,532.41 268.59,531.88 269.34,531.36 270.09,530.84 270.85,530.32 271.60,529.80 272.35,529.28 273.10,528.76 273.85,528.24 274.60,527.72 275.35,527.19 276.10,526.65 276.85,526.10 277.60,525.56 278.35,525.02 279.10,524.49 279.85,523.97 280.60,523.47 281.35,522.98 282.10,522.52 282.85,522.08 283.61,521.67 284.36,521.28 285.11,520.90 285.86,520.53 286.61,520.18 287.36,519.83 288.11,519.49 288.86,519.16 289.61,518.82 290.36,518.49 291.11,518.17 291.86,517.85 292.61,517.54 293.36,517.23 294.11,516.93 294.86,516.63 295.62,516.35" fill="none" stroke="#222" stroke-width="1.25" stroke-dasharray="5.6 1.6 1.2 1.6" stroke-linejoin="round" />
<polyline points="71.73,671.20 295.62,512.59" fill="none" stroke="#222" stroke-width="1.25"  stroke-linejoin="round" />
<path d="M174.69 589.40L184.29 599.00M174.69 599.00L184.29 589.40" stroke="#4a4a4a" stroke-width="0.95" fill="none"/>
<g font-family='"Liberation Sans", Arial, sans-serif' font-size="11" fill="#262626"><path d="M404.50 498.50V671.20H677.10" fill="none" stroke="#707070" stroke-width="1.1"/><path d="M404.50 671.20v-2.7M443.44 671.20v-2.7M482.39 671.20v-2.7M521.33 671.20v-2.7M560.27 671.20v-2.7M599.21 671.20v-2.7M638.16 671.20v-2.7M677.10 671.20v-2.7M404.50 671.20h2.7M404.50 636.66h2.7M404.50 602.12h2.7M404.50 567.58h2.7M404.50 533.04h2.7M404.50 498.50h2.7" fill="none" stroke="#707070" stroke-width="1.1"/><text x="404.50" y="687.60" text-anchor="middle">-3</text><text x="443.44" y="687.60" text-anchor="middle">-2</text><text x="482.39" y="687.60" text-anchor="middle">-1</text><text x="521.33" y="687.60" text-anchor="middle">0</text><text x="560.27" y="687.60" text-anchor="middle">1</text><text x="599.21" y="687.60" text-anchor="middle">2</text><text x="638.16" y="687.60" text-anchor="middle">3</text><text x="677.10" y="687.60" text-anchor="middle">4</text><text x="399.20" y="675.10" text-anchor="end">0</text><text x="399.20" y="640.56" text-anchor="end">2</text><text x="399.20" y="606.02" text-anchor="end">4</text><text x="399.20" y="571.48" text-anchor="end">6</text><text x="399.20" y="536.94" text-anchor="end">8</text><text x="399.20" y="502.40" text-anchor="end">10</text></g>
<polyline points="545.78,595.51 656.11,537.39" fill="none" stroke="#444" stroke-width="1.05" stroke-dasharray="1.1 1.9" stroke-linejoin="round" />
<polyline points="431.41,656.90 432.16,656.51 432.91,656.12 433.66,655.72 434.42,655.33 435.17,654.94 435.92,654.55 436.67,654.15 437.42,653.76 438.17,653.36 438.92,652.97 439.68,652.57 440.43,652.18 441.18,651.78 441.93,651.38 442.68,650.99 443.43,650.59 444.19,650.19 444.94,649.79 445.69,649.40 446.44,649.00 447.19,648.60 447.94,648.20 448.69,647.80 449.45,647.40 450.20,647.00 450.95,646.60 451.70,646.20 452.45,645.80 453.20,645.39 453.95,644.99 454.71,644.59 455.46,644.19 456.21,643.78 456.96,643.38 457.71,642.98 458.46,642.57 459.22,642.17 459.97,641.76 460.72,641.36 461.47,640.95 462.22,640.55 462.97,640.14 463.72,639.73 464.48,639.33 465.23,638.92 465.98,638.51 466.73,638.11 467.48,637.70 468.23,637.29 468.98,636.88 469.74,636.47 470.49,636.07 471.24,635.66 471.99,635.25 472.74,634.84 473.49,634.43 474.25,634.02 475.00,633.61 475.75,633.20 476.50,632.78 477.25,632.37 478.00,631.96 478.75,631.55 479.51,631.14 480.26,630.73 481.01,630.31 481.76,629.90 482.51,629.49 483.26,629.07 484.01,628.66 484.77,628.25 485.52,627.83 486.27,627.42 487.02,627.00 487.77,626.59 488.52,626.17 489.28,625.76 490.03,625.34 490.78,624.93 491.53,624.51 492.28,624.09 493.03,623.66 493.78,623.24 494.54,622.81 495.29,622.38 496.04,621.95 496.79,621.51 497.54,621.08 498.29,620.64 499.05,620.21 499.80,619.77 500.55,619.33 501.30,618.89 502.05,618.45 502.80,618.01 503.55,617.58 504.31,617.14 505.06,616.70 505.81,616.26 506.56,615.82 507.31,615.39 508.06,614.95 508.81,614.52 509.57,614.09 510.32,613.66 511.07,613.23 511.82,612.80 512.57,612.38 513.32,611.95 514.08,611.54 514.83,611.12 515.58,610.70 516.33,610.29 517.08,609.88 517.83,609.48 518.58,609.08 519.34,608.68 520.09,608.29 520.84,607.90 521.59,607.51 522.34,607.13 523.09,606.76 523.84,606.39 524.60,606.03 525.35,605.67 526.10,605.32 526.85,604.97 527.60,604.62 528.35,604.28 529.11,603.94 529.86,603.60 530.61,603.27 531.36,602.93 532.11,602.60 532.86,602.26 533.61,601.93 534.37,601.59 535.12,601.26 535.87,600.92 536.62,600.58 537.37,600.24 538.12,599.90 538.87,599.55 539.63,599.20 540.38,598.84 541.13,598.48 541.88,598.12 542.63,597.75 543.38,597.38 544.14,597.00 544.89,596.61 545.64,596.21 546.39,595.81 547.14,595.40 547.89,594.99 548.64,594.57 549.40,594.15 550.15,593.72 550.90,593.29 551.65,592.85 552.40,592.41 553.15,591.96 553.90,591.51 554.66,591.06 555.41,590.60 556.16,590.14 556.91,589.67 557.66,589.21 558.41,588.74 559.17,588.26 559.92,587.79 560.67,587.31 561.42,586.83 562.17,586.34 562.92,585.86 563.67,585.37 564.43,584.88 565.18,584.39 565.93,583.90 566.68,583.41 567.43,582.92 568.18,582.42 568.94,581.93 569.69,581.43 570.44,580.94 571.19,580.44 571.94,579.95 572.69,579.45 573.44,578.96 574.20,578.46 574.95,577.97 575.70,577.48 576.45,576.99 577.20,576.50 577.95,576.01 578.70,575.52 579.46,575.04 580.21,574.55 580.96,574.07 581.71,573.59 582.46,573.12 583.21,572.64 583.97,572.17 584.72,571.70 585.47,571.23 586.22,570.76 586.97,570.29 587.72,569.81 588.47,569.34 589.23,568.87 589.98,568.40 590.73,567.92 591.48,567.45 592.23,566.98 592.98,566.50 593.73,566.03 594.49,565.56 595.24,565.08 595.99,564.61 596.74,564.13 597.49,563.66 598.24,563.19 599.00,562.71 599.75,562.24 600.50,561.76 601.25,561.29 602.00,560.82 602.75,560.34 603.50,559.87 604.26,559.39 605.01,558.92 605.76,558.45 606.51,557.97 607.26,557.50 608.01,557.03 608.76,556.55 609.52,556.08 610.27,555.61 611.02,555.14 611.77,554.67 612.52,554.20 613.27,553.72 614.03,553.25 614.78,552.78 615.53,552.31 616.28,551.84 617.03,551.37 617.78,550.91 618.53,550.44 619.29,549.97 620.04,549.50 620.79,549.04 621.54,548.57 622.29,548.10 623.04,547.64 623.80,547.18 624.55,546.71 625.30,546.25 626.05,545.79 626.80,545.32 627.55,544.86 628.30,544.40 629.06,543.94 629.81,543.48 630.56,543.02 631.31,542.57 632.06,542.11 632.81,541.65 633.56,541.20 634.32,540.74 635.07,540.28 635.82,539.82 636.57,539.35 637.32,538.88 638.07,538.41 638.83,537.94 639.58,537.48 640.33,537.02 641.08,536.58 641.83,536.15 642.58,535.74 643.33,535.34 644.09,534.97 644.84,534.61 645.59,534.25 646.34,533.91 647.09,533.58 647.84,533.27 648.59,532.98 649.35,532.71 650.10,532.47 650.85,532.25 651.60,532.03 652.35,531.82 653.10,531.62 653.86,531.44 654.61,531.28 655.36,531.13 656.11,531.00" fill="none" stroke="#222" stroke-width="1.25" stroke-dasharray="5.6 1.6 1.2 1.6" stroke-linejoin="round" />
<polyline points="431.41,667.92 656.11,526.89" fill="none" stroke="#222" stroke-width="1.25"  stroke-linejoin="round" />
<path d="M540.98 590.71L550.58 600.31M540.98 600.31L550.58 590.71" stroke="#4a4a4a" stroke-width="0.95" fill="none"/>
<rect x="51.40" y="23.60" width="158.00" height="40.4" fill="#fff" stroke="#707070" stroke-width="1.1"/>
<path d="M53.50 34.40h5.8M53.50 53.80h9.2" stroke="#222" stroke-width="1.25"/>
<text transform="translate(63.88 38.10) scale(1.0986 1)" font-family='"Liberation Serif", "Times New Roman", serif' font-size="16" fill="#111">3D DNS Data</text>
<text transform="translate(64.36 57.75) scale(1.0783 1)" font-family='"Liberation Serif", "Times New Roman", serif' font-size="16" fill="#111">Best fit</text>
<text transform="translate(120.37 57.75) scale(1.0615 1)" font-family='"Liberation Serif", "Times New Roman", serif' font-size="15.5" fill="#111"><tspan font-style="italic">n</tspan></text>
<text transform="translate(129.09 59.65) scale(1.3739 1)" font-family='"Liberation Serif", "Times New Roman", serif' font-size="11" fill="#111"><tspan font-style="italic">p</tspan></text>
<text transform="translate(136.41 57.75) scale(1.4483 1)" font-family='"Liberation Serif", "Times New Roman", serif' font-size="15.5" fill="#111">=</text>
<text transform="translate(154.07 57.75) scale(1.0518 1)" font-family='"Liberation Serif", "Times New Roman", serif' font-size="15.5" fill="#111">0.72089</text>
<rect x="411.70" y="23.60" width="157.90" height="40.4" fill="#fff" stroke="#707070" stroke-width="1.1"/>
<path d="M413.80 34.40h5.8M413.80 53.80h9.2" stroke="#222" stroke-width="1.25"/>
<text transform="translate(424.18 38.10) scale(1.0986 1)" font-family='"Liberation Serif", "Times New Roman", serif' font-size="16" fill="#111">2D DNS Data</text>
<text transform="translate(424.66 57.75) scale(1.0783 1)" font-family='"Liberation Serif", "Times New Roman", serif' font-size="16" fill="#111">Best fit</text>
<text transform="translate(480.67 57.75) scale(1.0615 1)" font-family='"Liberation Serif", "Times New Roman", serif' font-size="15.5" fill="#111"><tspan font-style="italic">n</tspan></text>
<text transform="translate(489.39 59.65) scale(1.3739 1)" font-family='"Liberation Serif", "Times New Roman", serif' font-size="11" fill="#111"><tspan font-style="italic">p</tspan></text>
<text transform="translate(496.71 57.75) scale(1.4483 1)" font-family='"Liberation Serif", "Times New Roman", serif' font-size="15.5" fill="#111">=</text>
<text transform="translate(514.38 57.75) scale(1.0444 1)" font-family='"Liberation Serif", "Times New Roman", serif' font-size="15.5" fill="#111">0.64877</text>
<rect x="51.40" y="264.40" width="166.20" height="40.4" fill="#fff" stroke="#707070" stroke-width="1.1"/>
<path d="M53.50 275.20h5.8M53.50 294.60h9.2" stroke="#222" stroke-width="1.25"/>
<text transform="translate(63.88 278.90) scale(1.0986 1)" font-family='"Liberation Serif", "Times New Roman", serif' font-size="16" fill="#111">3D DNS Data</text>
<text transform="translate(64.36 298.55) scale(1.0783 1)" font-family='"Liberation Serif", "Times New Roman", serif' font-size="16" fill="#111">Best fit</text>
<text transform="translate(121.88 298.55) scale(1.1289 1)" font-family='"Liberation Serif", "Times New Roman", serif' font-size="15.5" fill="#111"><tspan font-style="italic">D</tspan></text>
<text transform="translate(134.40 292.35) scale(1.1857 1)" font-family='"Liberation Serif", "Times New Roman", serif' font-size="11" fill="#111"><tspan font-style="italic">BC</tspan></text>
<text transform="translate(133.69 302.45) scale(1.2255 1)" font-family='"Liberation Serif", "Times New Roman", serif' font-size="11" fill="#111">3<tspan font-style="italic">F</tspan></text>
<text transform="translate(152.32 298.55) scale(1.5724 1)" font-family='"Liberation Serif", "Times New Roman", serif' font-size="15.5" fill="#111">=</text>
<text transform="translate(170.21 298.55) scale(1.0585 1)" font-family='"Liberation Serif", "Times New Roman", serif' font-size="15.5" fill="#111">2.7152</text>
<rect x="411.70" y="264.40" width="165.90" height="40.4" fill="#fff" stroke="#707070" stroke-width="1.1"/>
<path d="M413.80 275.20h5.8M413.80 294.60h9.2" stroke="#222" stroke-width="1.25"/>
<text transform="translate(424.18 278.90) scale(1.0986 1)" font-family='"Liberation Serif", "Times New Roman", serif' font-size="16" fill="#111">2D DNS Data</text>
<text transform="translate(424.66 298.55) scale(1.0783 1)" font-family='"Liberation Serif", "Times New Roman", serif' font-size="16" fill="#111">Best fit</text>
<text transform="translate(482.18 298.55) scale(1.1289 1)" font-family='"Liberation Serif", "Times New Roman", serif' font-size="15.5" fill="#111"><tspan font-style="italic">D</tspan></text>
<text transform="translate(494.70 292.35) scale(1.1857 1)" font-family='"Liberation Serif", "Times New Roman", serif' font-size="11" fill="#111"><tspan font-style="italic">BC</tspan></text>
<text transform="translate(493.99 302.45) scale(1.2255 1)" font-family='"Liberation Serif", "Times New Roman", serif' font-size="11" fill="#111">2<tspan font-style="italic">F</tspan></text>
<text transform="translate(512.62 298.55) scale(1.5724 1)" font-family='"Liberation Serif", "Times New Roman", serif' font-size="15.5" fill="#111">=</text>
<text transform="translate(529.98 298.55) scale(1.0577 1)" font-family='"Liberation Serif", "Times New Roman", serif' font-size="15.5" fill="#111">1.6855</text>
<rect x="51.40" y="505.60" width="166.60" height="40.4" fill="#fff" stroke="#707070" stroke-width="1.1"/>
<path d="M53.50 516.40h6.6M53.50 535.80h9.2" stroke="#222" stroke-width="1.25"/>
<text transform="translate(63.88 520.10) scale(1.0986 1)" font-family='"Liberation Serif", "Times New Roman", serif' font-size="16" fill="#111">3D DNS Data</text>
<text transform="translate(64.36 539.75) scale(1.0783 1)" font-family='"Liberation Serif", "Times New Roman", serif' font-size="16" fill="#111">Best fit</text>
<text transform="translate(121.88 539.75) scale(1.1289 1)" font-family='"Liberation Serif", "Times New Roman", serif' font-size="15.5" fill="#111"><tspan font-style="italic">D</tspan></text>
<text transform="translate(134.13 533.55) scale(1.1448 1)" font-family='"Liberation Serif", "Times New Roman", serif' font-size="11" fill="#111"><tspan font-style="italic">CD</tspan></text>
<text transform="translate(133.69 543.65) scale(1.2255 1)" font-family='"Liberation Serif", "Times New Roman", serif' font-size="11" fill="#111">3<tspan font-style="italic">F</tspan></text>
<text transform="translate(152.32 539.75) scale(1.5724 1)" font-family='"Liberation Serif", "Times New Roman", serif' font-size="15.5" fill="#111">=</text>
<text transform="translate(170.20 539.75) scale(1.0618 1)" font-family='"Liberation Serif", "Times New Roman", serif' font-size="15.5" fill="#111">2.4155</text>
<rect x="411.70" y="505.60" width="166.30" height="40.4" fill="#fff" stroke="#707070" stroke-width="1.1"/>
<path d="M413.80 516.40h6.6M413.80 535.80h9.2" stroke="#222" stroke-width="1.25"/>
<text transform="translate(424.18 520.10) scale(1.0986 1)" font-family='"Liberation Serif", "Times New Roman", serif' font-size="16" fill="#111">2D DNS Data</text>
<text transform="translate(424.66 539.75) scale(1.0783 1)" font-family='"Liberation Serif", "Times New Roman", serif' font-size="16" fill="#111">Best fit</text>
<text transform="translate(482.18 539.75) scale(1.1289 1)" font-family='"Liberation Serif", "Times New Roman", serif' font-size="15.5" fill="#111"><tspan font-style="italic">D</tspan></text>
<text transform="translate(494.43 533.55) scale(1.1448 1)" font-family='"Liberation Serif", "Times New Roman", serif' font-size="11" fill="#111"><tspan font-style="italic">CD</tspan></text>
<text transform="translate(493.99 543.65) scale(1.2255 1)" font-family='"Liberation Serif", "Times New Roman", serif' font-size="11" fill="#111">2<tspan font-style="italic">F</tspan></text>
<text transform="translate(512.62 539.75) scale(1.5724 1)" font-family='"Liberation Serif", "Times New Roman", serif' font-size="15.5" fill="#111">=</text>
<text transform="translate(529.98 539.75) scale(1.0545 1)" font-family='"Liberation Serif", "Times New Roman", serif' font-size="15.5" fill="#111">1.4124</text>
<text transform="translate(139.42 223.40) scale(1.0769 1)" font-family='"Liberation Serif", "Times New Roman", serif' font-size="16.5" fill="#111"><tspan font-style="italic">log</tspan></text>
<text transform="translate(163.04 223.40) scale(1.1529 1)" font-family='"Liberation Serif", "Times New Roman", serif' font-size="16.5" fill="#111">(</text>
<text transform="translate(169.84 223.40) scale(1.4162 1)" font-family='"Liberation Serif", "Times New Roman", serif' font-size="16.5" fill="#111">Δ</text>
<text transform="translate(185.80 223.40) scale(1.6000 1)" font-family='"Liberation Serif", "Times New Roman", serif' font-size="16.5" fill="#111">/</text>
<text transform="translate(193.43 223.40) scale(0.9379 1)" font-family='"Liberation Serif", "Times New Roman", serif' font-size="16.5" fill="#111"><tspan font-style="italic">δ</tspan></text>
<text transform="translate(200.46 226.00) scale(1.4788 1)" font-family='"Liberation Serif", "Times New Roman", serif' font-size="12" fill="#111"><tspan font-style="italic">th</tspan></text>
<text transform="translate(214.67 223.40) scale(1.0588 1)" font-family='"Liberation Serif", "Times New Roman", serif' font-size="16.5" fill="#111">)</text>
<text transform="translate(499.72 223.40) scale(1.0769 1)" font-family='"Liberation Serif", "Times New Roman", serif' font-size="16.5" fill="#111"><tspan font-style="italic">log</tspan></text>
<text transform="translate(523.34 223.40) scale(1.1529 1)" font-family='"Liberation Serif", "Times New Roman", serif' font-size="16.5" fill="#111">(</text>
<text transform="translate(530.14 223.40) scale(1.4162 1)" font-family='"Liberation Serif", "Times New Roman", serif' font-size="16.5" fill="#111">Δ</text>
<text transform="translate(546.10 223.40) scale(1.6000 1)" font-family='"Liberation Serif", "Times New Roman", serif' font-size="16.5" fill="#111">/</text>
<text transform="translate(553.73 223.40) scale(0.9379 1)" font-family='"Liberation Serif", "Times New Roman", serif' font-size="16.5" fill="#111"><tspan font-style="italic">δ</tspan></text>
<text transform="translate(560.76 226.00) scale(1.4788 1)" font-family='"Liberation Serif", "Times New Roman", serif' font-size="12" fill="#111"><tspan font-style="italic">th</tspan></text>
<text transform="translate(574.97 223.40) scale(1.0588 1)" font-family='"Liberation Serif", "Times New Roman", serif' font-size="16.5" fill="#111">)</text>
<text transform="translate(139.42 464.00) scale(1.0769 1)" font-family='"Liberation Serif", "Times New Roman", serif' font-size="16.5" fill="#111"><tspan font-style="italic">log</tspan></text>
<text transform="translate(163.04 464.00) scale(1.1529 1)" font-family='"Liberation Serif", "Times New Roman", serif' font-size="16.5" fill="#111">(</text>
<text transform="translate(169.93 464.00) scale(0.9379 1)" font-family='"Liberation Serif", "Times New Roman", serif' font-size="16.5" fill="#111"><tspan font-style="italic">δ</tspan></text>
<text transform="translate(176.85 466.60) scale(1.4909 1)" font-family='"Liberation Serif", "Times New Roman", serif' font-size="12" fill="#111"><tspan font-style="italic">th</tspan></text>
<text transform="translate(190.80 464.00) scale(1.6000 1)" font-family='"Liberation Serif", "Times New Roman", serif' font-size="16.5" fill="#111">/</text>
<text transform="translate(199.28 464.00) scale(1.3622 1)" font-family='"Liberation Serif", "Times New Roman", serif' font-size="16.5" fill="#111">Δ</text>
<text transform="translate(214.67 464.00) scale(1.0588 1)" font-family='"Liberation Serif", "Times New Roman", serif' font-size="16.5" fill="#111">)</text>
<text transform="translate(499.72 464.00) scale(1.0769 1)" font-family='"Liberation Serif", "Times New Roman", serif' font-size="16.5" fill="#111"><tspan font-style="italic">log</tspan></text>
<text transform="translate(523.34 464.00) scale(1.1529 1)" font-family='"Liberation Serif", "Times New Roman", serif' font-size="16.5" fill="#111">(</text>
<text transform="translate(530.23 464.00) scale(0.9379 1)" font-family='"Liberation Serif", "Times New Roman", serif' font-size="16.5" fill="#111"><tspan font-style="italic">δ</tspan></text>
<text transform="translate(537.15 466.60) scale(1.4909 1)" font-family='"Liberation Serif", "Times New Roman", serif' font-size="12" fill="#111"><tspan font-style="italic">th</tspan></text>
<text transform="translate(551.10 464.00) scale(1.6000 1)" font-family='"Liberation Serif", "Times New Roman", serif' font-size="16.5" fill="#111">/</text>
<text transform="translate(559.58 464.00) scale(1.3622 1)" font-family='"Liberation Serif", "Times New Roman", serif' font-size="16.5" fill="#111">Δ</text>
<text transform="translate(574.97 464.00) scale(1.0588 1)" font-family='"Liberation Serif", "Times New Roman", serif' font-size="16.5" fill="#111">)</text>
<text transform="translate(139.42 705.20) scale(1.0769 1)" font-family='"Liberation Serif", "Times New Roman", serif' font-size="16.5" fill="#111"><tspan font-style="italic">log</tspan></text>
<text transform="translate(163.04 705.20) scale(1.1529 1)" font-family='"Liberation Serif", "Times New Roman", serif' font-size="16.5" fill="#111">(</text>
<text transform="translate(169.84 705.20) scale(1.4162 1)" font-family='"Liberation Serif", "Times New Roman", serif' font-size="16.5" fill="#111">Δ</text>
<text transform="translate(185.80 705.20) scale(1.6000 1)" font-family='"Liberation Serif", "Times New Roman", serif' font-size="16.5" fill="#111">/</text>
<text transform="translate(193.43 705.20) scale(0.9379 1)" font-family='"Liberation Serif", "Times New Roman", serif' font-size="16.5" fill="#111"><tspan font-style="italic">δ</tspan></text>
<text transform="translate(200.46 707.80) scale(1.4788 1)" font-family='"Liberation Serif", "Times New Roman", serif' font-size="12" fill="#111"><tspan font-style="italic">th</tspan></text>
<text transform="translate(214.67 705.20) scale(1.0588 1)" font-family='"Liberation Serif", "Times New Roman", serif' font-size="16.5" fill="#111">)</text>
<text transform="translate(499.72 705.20) scale(1.0769 1)" font-family='"Liberation Serif", "Times New Roman", serif' font-size="16.5" fill="#111"><tspan font-style="italic">log</tspan></text>
<text transform="translate(523.34 705.20) scale(1.1529 1)" font-family='"Liberation Serif", "Times New Roman", serif' font-size="16.5" fill="#111">(</text>
<text transform="translate(530.14 705.20) scale(1.4162 1)" font-family='"Liberation Serif", "Times New Roman", serif' font-size="16.5" fill="#111">Δ</text>
<text transform="translate(546.10 705.20) scale(1.6000 1)" font-family='"Liberation Serif", "Times New Roman", serif' font-size="16.5" fill="#111">/</text>
<text transform="translate(553.73 705.20) scale(0.9379 1)" font-family='"Liberation Serif", "Times New Roman", serif' font-size="16.5" fill="#111"><tspan font-style="italic">δ</tspan></text>
<text transform="translate(560.76 707.80) scale(1.4788 1)" font-family='"Liberation Serif", "Times New Roman", serif' font-size="12" fill="#111"><tspan font-style="italic">th</tspan></text>
<text transform="translate(574.97 705.20) scale(1.0588 1)" font-family='"Liberation Serif", "Times New Roman", serif' font-size="16.5" fill="#111">)</text>
<text transform="translate(13.90 200.19) rotate(-90) scale(1.1417 1)" font-family='"Liberation Serif", "Times New Roman", serif' font-size="16.5" fill="#111">log(</text>
<text transform="translate(13.90 170.06) rotate(-90) scale(1.4194 1)" font-family='"Liberation Serif", "Times New Roman", serif' font-size="16.5" fill="#111">&lt;</text>
<text transform="translate(13.90 151.60) rotate(-90) scale(1.2000 1)" font-family='"Liberation Serif", "Times New Roman", serif' font-size="16.5" fill="#111">Σ<tspan font-style="italic" font-size="12" dy="3">gen</tspan></text>
<text transform="translate(13.90 114.33) rotate(-90) scale(1.5097 1)" font-family='"Liberation Serif", "Times New Roman", serif' font-size="16.5" fill="#111">&gt;</text>
<text transform="translate(13.90 94.70) rotate(-90) scale(1.4889 1)" font-family='"Liberation Serif", "Times New Roman", serif' font-size="16.5" fill="#111">/</text>
<text transform="translate(13.90 81.06) rotate(-90) scale(1.4194 1)" font-family='"Liberation Serif", "Times New Roman", serif' font-size="16.5" fill="#111">&lt;</text>
<text transform="translate(13.90 62.26) rotate(-90) scale(1.2449 1)" font-family='"Liberation Serif", "Times New Roman", serif' font-size="16.5" fill="#111">|<tspan font-family="DejaVu Serif" font-size="15.5">∇</tspan><tspan font-style="italic">c̄</tspan>|</text>
<text transform="translate(13.90 26.06) rotate(-90) scale(1.4194 1)" font-family='"Liberation Serif", "Times New Roman", serif' font-size="16.5" fill="#111">&gt;</text>
<text transform="translate(13.90 12.55) rotate(-90) scale(1.1059 1)" font-family='"Liberation Serif", "Times New Roman", serif' font-size="16.5" fill="#111">)</text>
<text transform="translate(374.60 208.00) rotate(-90) scale(1.1845 1)" font-family='"Liberation Serif", "Times New Roman", serif' font-size="16.5" fill="#111">log(</text>
<text transform="translate(374.60 177.57) rotate(-90) scale(1.5613 1)" font-family='"Liberation Serif", "Times New Roman", serif' font-size="16.5" fill="#111">&lt;</text>
<text transform="translate(374.60 159.61) rotate(-90) scale(1.2129 1)" font-family='"Liberation Serif", "Times New Roman", serif' font-size="16.5" fill="#111">Σ<tspan font-size="12" dy="3">2<tspan font-style="italic">D</tspan></tspan></text>
<text transform="translate(374.60 123.52) rotate(-90) scale(1.3548 1)" font-family='"Liberation Serif", "Times New Roman", serif' font-size="16.5" fill="#111">&gt;</text>
<text transform="translate(374.60 104.60) rotate(-90) scale(1.6889 1)" font-family='"Liberation Serif", "Times New Roman", serif' font-size="16.5" fill="#111">/</text>
<text transform="translate(374.60 91.99) rotate(-90) scale(1.5871 1)" font-family='"Liberation Serif", "Times New Roman", serif' font-size="16.5" fill="#111">&lt;</text>
<text transform="translate(374.60 72.86) rotate(-90) scale(1.2514 1)" font-family='"Liberation Serif", "Times New Roman", serif' font-size="16.5" fill="#111">|<tspan font-family="DejaVu Serif" font-size="15.5">∇</tspan><tspan font-style="italic">c̄</tspan><tspan font-size="12" dy="-7">2<tspan font-style="italic">D</tspan></tspan><tspan dy="7">|</tspan></text>
<text transform="translate(374.60 18.64) rotate(-90) scale(1.3806 1)" font-family='"Liberation Serif", "Times New Roman", serif' font-size="16.5" fill="#111">&gt;</text>
<text transform="translate(374.60 4.75) rotate(-90) scale(1.1059 1)" font-family='"Liberation Serif", "Times New Roman", serif' font-size="16.5" fill="#111">)</text>
<text transform="translate(17.40 382.93) rotate(-90) scale(1.2258 1)" font-family='"Liberation Serif", "Times New Roman", serif' font-size="16.5" fill="#111"><tspan font-style="italic">log</tspan>(<tspan font-style="italic">A</tspan>(Δ))</text>
<text transform="translate(377.60 382.42) rotate(-90) scale(1.2245 1)" font-family='"Liberation Serif", "Times New Roman", serif' font-size="16.5" fill="#111"><tspan font-style="italic">log</tspan>(<tspan font-style="italic">L</tspan>(Δ))</text>
<text transform="translate(17.20 625.12) rotate(-90) scale(1.2238 1)" font-family='"Liberation Serif", "Times New Roman", serif' font-size="16.5" fill="#111"><tspan font-style="italic">log</tspan>(<tspan font-style="italic">C</tspan>(Δ))</text>
<text transform="translate(377.50 625.12) rotate(-90) scale(1.2238 1)" font-family='"Liberation Serif", "Times New Roman", serif' font-size="16.5" fill="#111"><tspan font-style="italic">log</tspan>(<tspan font-style="italic">C</tspan>(Δ))</text>
<text transform="translate(31.16 227.10) scale(1.0400 1)" font-family='"Liberation Serif", "Times New Roman", serif' font-size="22" fill="#111">(a)</text>
<text transform="translate(390.81 227.10) scale(1.0400 1)" font-family='"Liberation Serif", "Times New Roman", serif' font-size="22" fill="#111">(b)</text>
<text transform="translate(31.16 467.70) scale(1.0400 1)" font-family='"Liberation Serif", "Times New Roman", serif' font-size="22" fill="#111">(c)</text>
<text transform="translate(390.81 467.70) scale(1.0400 1)" font-family='"Liberation Serif", "Times New Roman", serif' font-size="22" fill="#111">(d)</text>
<text transform="translate(31.16 708.90) scale(1.0400 1)" font-family='"Liberation Serif", "Times New Roman", serif' font-size="22" fill="#111">(e)</text>
<text transform="translate(392.76 708.90) scale(1.0400 1)" font-family='"Liberation Serif", "Times New Roman", serif' font-size="22" fill="#111">(f)</text></svg>
</body></html>
